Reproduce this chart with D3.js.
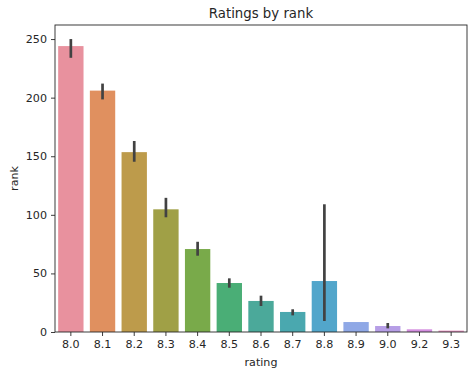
<!DOCTYPE html>
<html>
<head>
<meta charset="utf-8">
<script src="https://cdn.jsdelivr.net/npm/d3@7"></script>
<style>
  html, body { margin: 0; padding: 0; background: #fff; }
  svg { display: block; font-family: "DejaVu Sans", sans-serif; }
</style>
</head>
<body>
<svg id="chart" width="474" height="376"></svg>
<script>
const ratings = ["8.0","8.1","8.2","8.3","8.4","8.5","8.6","8.7","8.8","8.9","9.0","9.2","9.3"];
const meanRank = [244, 206, 153.5, 104.7, 70.8, 41.8, 26.5, 17.1, 43.5, 8.5, 5.1, 2.3, 1.2];
const ciLow  = [234, 198.5, 145.3, 97.9, 65.1, 37.8, 22.2, 14.2, 9.4, 8.5, 3.1, 2.3, 1.2];
const ciHigh = [250, 212, 163, 114.5, 77, 45.8, 31, 19.4, 109, 8.5, 7.7, 2.3, 1.2];
const barColors = ["#e8919e","#e0905f","#bd9b4b","#a0a046","#79aa4a","#4aae76","#4ba99a","#4aa8af","#52a6cb","#8fa8e6","#b69ee6","#d48ee0","#e68fbf"];
const yTicks = [0, 50, 100, 150, 200, 250];

const svg = d3.select("#chart");
const m = { left: 55, right: 467, top: 25, bottom: 332 };

const x = d3.scaleBand().domain(ratings).range([m.left, m.right]).paddingInner(0.2).paddingOuter(0.1);
const y = d3.scaleLinear().domain([0, 262]).range([m.bottom, m.top]);

const data = ratings.map((r, i) => ({ r, v: meanRank[i], lo: ciLow[i], hi: ciHigh[i], c: barColors[i] }));

svg.append("g").selectAll("rect").data(data).join("rect")
  .attr("x", d => x(d.r))
  .attr("width", x.bandwidth())
  .attr("y", d => y(d.v))
  .attr("height", d => y(0) - y(d.v))
  .attr("fill", d => d.c);

svg.append("g").selectAll("line").data(data.filter(d => d.hi > d.lo)).join("line")
  .attr("x1", d => x(d.r) + x.bandwidth() / 2)
  .attr("x2", d => x(d.r) + x.bandwidth() / 2)
  .attr("y1", d => y(d.lo))
  .attr("y2", d => y(d.hi))
  .attr("stroke", "#424242")
  .attr("stroke-width", 2.7);

const xAxis = svg.append("g").attr("transform", `translate(0,${m.bottom})`)
  .call(d3.axisBottom(x).tickSizeOuter(0).tickSize(4).tickPadding(4));
const yAxis = svg.append("g").attr("transform", `translate(${m.left},0)`)
  .call(d3.axisLeft(y).tickValues(yTicks).tickSizeOuter(0).tickSize(4).tickPadding(4));
[xAxis, yAxis].forEach(g => {
  g.select(".domain").remove();
  g.selectAll("text").attr("font-size", 11.1).attr("fill", "#262626").attr("font-family", "DejaVu Sans");
  g.selectAll("line").attr("stroke", "#262626").attr("stroke-width", 0.9);
});

svg.append("rect")
  .attr("x", m.left).attr("y", m.top)
  .attr("width", m.right - m.left).attr("height", m.bottom - m.top)
  .attr("fill", "none").attr("stroke", "#262626").attr("stroke-width", 0.9);

svg.append("text").attr("x", (m.left + m.right) / 2).attr("y", 18)
  .attr("text-anchor", "middle").attr("font-size", 13.3).attr("fill", "#262626").text("Ratings by rank");
svg.append("text").attr("x", (m.left + m.right) / 2).attr("y", 366)
  .attr("text-anchor", "middle").attr("font-size", 11.1).attr("fill", "#262626").text("rating");
svg.append("text").attr("transform", `translate(18,${(m.top + m.bottom) / 2}) rotate(-90)`)
  .attr("text-anchor", "middle").attr("font-size", 11.1).attr("fill", "#262626").text("rank");
</script>
</body>
</html>
